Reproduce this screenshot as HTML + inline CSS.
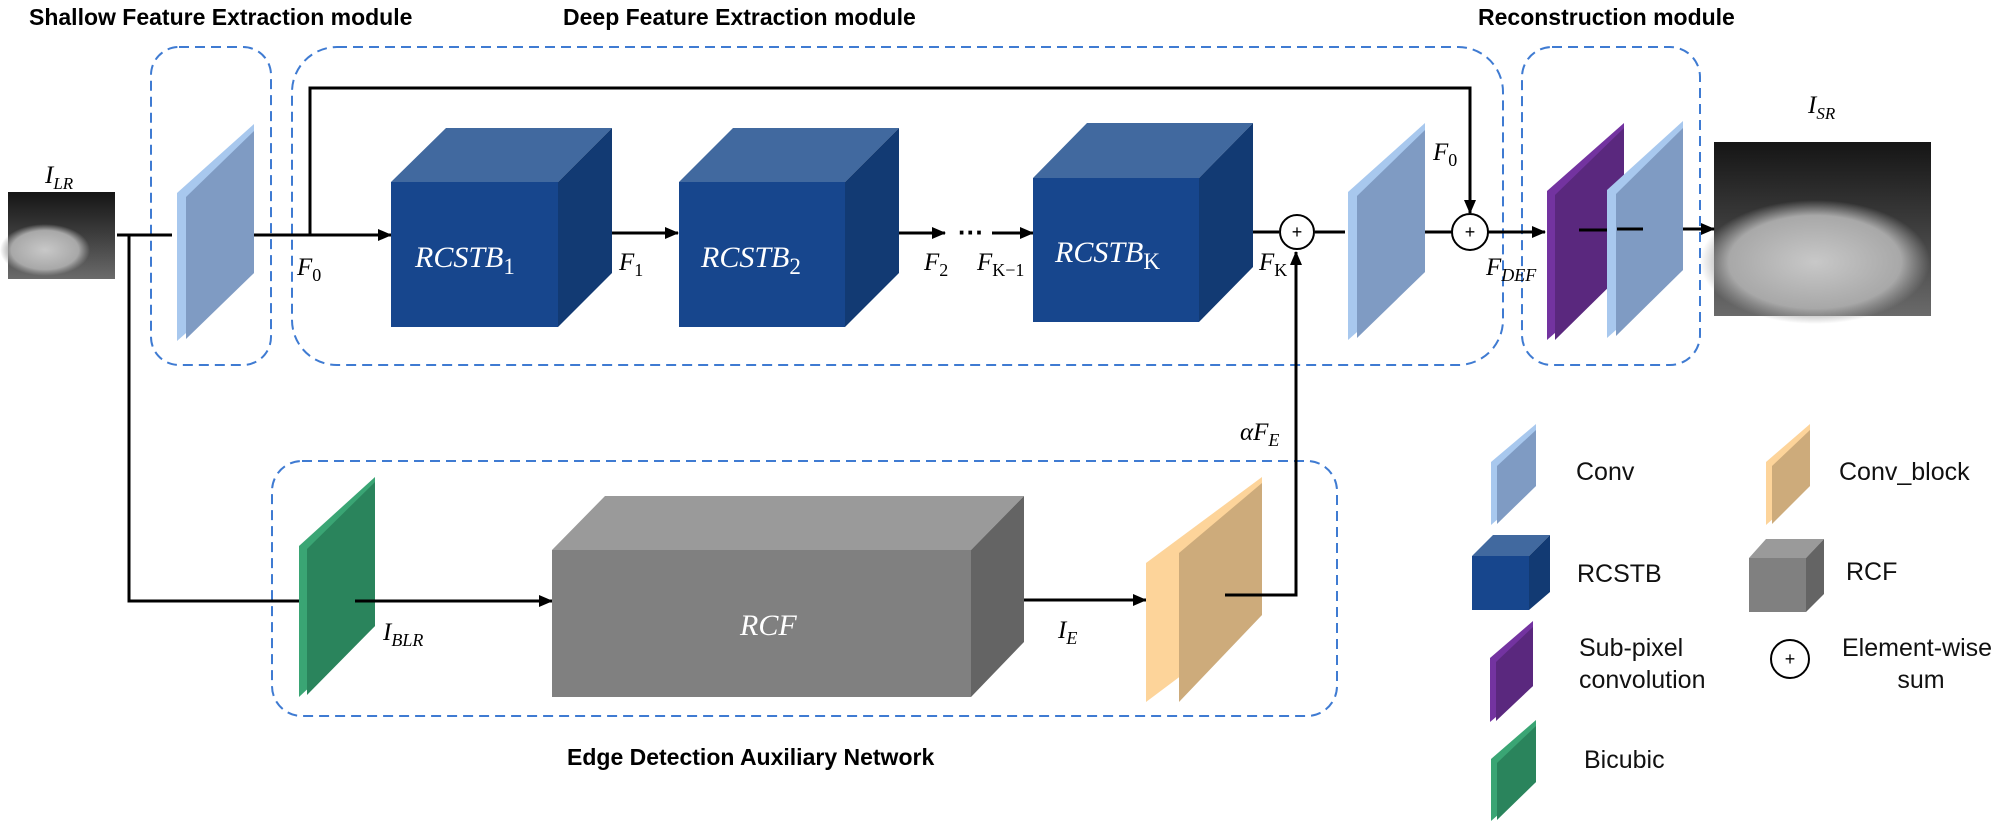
<!DOCTYPE html>
<html><head><meta charset="utf-8"><style>
html,body{margin:0;padding:0;background:#fff;}
svg{display:block;}
.t{font-family:"Liberation Sans",Arial,sans-serif;font-weight:bold;font-size:23px;fill:#000;}
.m{font-family:"Liberation Serif",serif;font-style:italic;font-size:25px;fill:#000;}
.w{font-family:"Liberation Serif",serif;font-style:italic;font-size:30px;fill:#fff;}
.l{font-family:"Liberation Sans",Arial,sans-serif;font-size:25px;fill:#111;}
</style></head><body>
<svg width="2007" height="824" viewBox="0 0 2007 824" xmlns="http://www.w3.org/2000/svg">
<defs>
<marker id="b" markerWidth="14" markerHeight="14" refX="13" refY="7" orient="auto" markerUnits="userSpaceOnUse"><path d="M0,1 L14,7 L0,13 z" fill="#000"/></marker>
<linearGradient id="gi" x1="0" y1="0" x2="0" y2="1"><stop offset="0" stop-color="#151515"/><stop offset="0.45" stop-color="#3a3a3a"/><stop offset="1" stop-color="#6a6a6a"/></linearGradient>
<radialGradient id="car" cx="0.5" cy="0.5" r="0.5"><stop offset="0" stop-color="#c8c8c8"/><stop offset="0.75" stop-color="#a8a8a8"/><stop offset="1" stop-color="#a0a0a0" stop-opacity="0"/></radialGradient>
</defs>

<text class="t" x="29" y="25">Shallow Feature Extraction module</text>
<text class="t" x="563" y="25">Deep Feature Extraction module</text>
<text class="t" x="1478" y="25">Reconstruction module</text>
<text class="t" x="567" y="765">Edge Detection Auxiliary Network</text>

<g fill="none" stroke="#3f7bd2" stroke-width="2" stroke-dasharray="10 6">
<rect x="151" y="47" width="120" height="318" rx="28"/>
<rect x="292" y="47" width="1211" height="318" rx="45"/>
<rect x="1522" y="47" width="178" height="318" rx="30"/>
<rect x="272" y="461" width="1065" height="255" rx="30"/>
</g>

<rect x="8" y="192" width="107" height="87" fill="url(#gi)"/>
<ellipse cx="45" cy="250" rx="45" ry="26" fill="url(#car)"/>
<text class="m" x="45" y="183">I<tspan font-size="17" dy="6">LR</tspan></text>

<rect x="1714" y="142" width="217" height="174" fill="url(#gi)"/>
<ellipse cx="1815" cy="262" rx="115" ry="62" fill="url(#car)"/>
<text class="m" x="1808" y="113">I<tspan font-size="17" dy="6">SR</tspan></text>

<g stroke="#000" stroke-width="3" fill="none">
<line x1="117" y1="235" x2="172" y2="235"/>
<line x1="237" y1="235" x2="391" y2="235" marker-end="url(#b)"/>
<polyline points="310,235 310,88 1470,88 1470,213" marker-end="url(#b)"/>
<line x1="578" y1="233" x2="678" y2="233" marker-end="url(#b)"/>
<line x1="899" y1="233" x2="945" y2="233" marker-end="url(#b)"/>
<line x1="992" y1="233" x2="1033" y2="233" marker-end="url(#b)"/>
<line x1="1253" y1="232" x2="1279" y2="232"/>
<line x1="1315" y1="232" x2="1345" y2="232"/>
<line x1="1414" y1="232" x2="1452" y2="232"/>
<line x1="1488" y1="232" x2="1545" y2="232" marker-end="url(#b)"/>
<line x1="1643" y1="229" x2="1714" y2="229" marker-end="url(#b)"/>
<polyline points="129,235 129,601 299,601"/>
<line x1="355" y1="601" x2="552" y2="601" marker-end="url(#b)"/>
<line x1="993" y1="600" x2="1146" y2="600" marker-end="url(#b)"/>
<polyline points="1225,595 1296,595 1296,252" marker-end="url(#b)"/>
</g>
<text x="958" y="241" font-family="Liberation Sans" font-size="26" font-weight="bold">···</text>

<g stroke="#000" stroke-width="2" fill="#fff">
<circle cx="1297" cy="232" r="17"/>
<circle cx="1470" cy="232" r="18"/>
<circle cx="1790" cy="659" r="19"/>
</g>
<g font-family="Liberation Sans" font-size="18" text-anchor="middle">
<text x="1297" y="238">+</text><text x="1470" y="238">+</text><text x="1790" y="665">+</text>
</g>

<g>
<polygon points="177,193 254,124 254,273 177,341" fill="#a8c8ee"/>
<polygon points="186,197 254,131 254,273 186,339" fill="#7f9bc3"/>
<polygon points="1348,192 1425,123 1425,272 1348,340" fill="#a8c8ee"/>
<polygon points="1357,196 1425,130 1425,272 1357,338" fill="#7f9bc3"/>
<polygon points="1547,191 1624,123 1624,272 1547,340" fill="#7333a0"/>
<polygon points="1555,195 1624,128 1624,272 1555,340" fill="#5a287e"/>
<line x1="1579" y1="230" x2="1607" y2="230" stroke="#000" stroke-width="3"/>
<polygon points="1607,190 1683,121 1683,270 1607,338" fill="#a8c8ee"/>
<polygon points="1616,194 1683,128 1683,270 1616,336" fill="#7f9bc3"/>
<line x1="1617" y1="229" x2="1643" y2="229" stroke="#000" stroke-width="3"/>
<polygon points="299,546 375,477 375,626 299,697" fill="#3aa574"/>
<polygon points="307,549 375,482 375,626 307,695" fill="#2a845c"/>
<polygon points="1146,563 1262,477 1262,615 1146,702" fill="#fdd49a"/>
<polygon points="1179,553 1262,483 1262,615 1179,702" fill="#cdab7b"/>
</g>
<line x1="355" y1="601" x2="375" y2="601" stroke="#000" stroke-width="3"/>
<line x1="1225" y1="595" x2="1262" y2="595" stroke="#000" stroke-width="3"/>

<g>
<polygon points="391,182 446,128 612,128 558,182" fill="#41699f"/>
<polygon points="558,182 612,128 612,273 558,327" fill="#123a73"/>
<rect x="391" y="182" width="167" height="145" fill="#17468d"/>
<polygon points="679,182 733,128 899,128 845,182" fill="#41699f"/>
<polygon points="845,182 899,128 899,273 845,327" fill="#123a73"/>
<rect x="679" y="182" width="166" height="145" fill="#17468d"/>
<polygon points="1033,178 1087,123 1253,123 1199,178" fill="#41699f"/>
<polygon points="1199,178 1253,123 1253,267 1199,322" fill="#123a73"/>
<rect x="1033" y="178" width="166" height="144" fill="#17468d"/>
<polygon points="552,550 605,496 1024,496 971,550" fill="#9a9a9a"/>
<polygon points="971,550 1024,496 1024,642 971,697" fill="#646464"/>
<rect x="552" y="550" width="419" height="147" fill="#808080"/>
</g>
<text class="w" x="415" y="267">RCSTB<tspan font-style="normal" font-size="23" dy="7">1</tspan></text>
<text class="w" x="701" y="267">RCSTB<tspan font-style="normal" font-size="23" dy="7">2</tspan></text>
<text class="w" x="1055" y="262">RCSTB<tspan font-style="normal" font-size="23" dy="7">K</tspan></text>
<text class="w" x="740" y="635">RCF</text>

<text class="m" x="297" y="275">F<tspan font-style="normal" font-size="18" dy="6">0</tspan></text>
<text class="m" x="619" y="270">F<tspan font-style="normal" font-size="18" dy="6">1</tspan></text>
<text class="m" x="924" y="270">F<tspan font-style="normal" font-size="18" dy="6">2</tspan></text>
<text class="m" x="977" y="270">F<tspan font-style="normal" font-size="18" dy="6">K−1</tspan></text>
<text class="m" x="1259" y="270">F<tspan font-style="normal" font-size="18" dy="6">K</tspan></text>
<text class="m" x="1433" y="160">F<tspan font-style="normal" font-size="18" dy="6">0</tspan></text>
<text class="m" x="1486" y="275">F<tspan font-size="18" dy="6">DEF</tspan></text>
<text class="m" x="1240" y="440">αF<tspan font-size="18" dy="6">E</tspan></text>
<text class="m" x="383" y="640">I<tspan font-size="18" dy="6">BLR</tspan></text>
<text class="m" x="1058" y="638">I<tspan font-size="18" dy="6">E</tspan></text>

<polygon points="1491,462 1536,424 1536,486 1491,525" fill="#a8c8ee"/>
<polygon points="1497,466 1536,430 1536,486 1497,524" fill="#7f9bc3"/>
<text class="l" x="1576" y="480">Conv</text>
<polygon points="1766,462 1810,424 1810,486 1766,525" fill="#fdd49a"/>
<polygon points="1772,466 1810,430 1810,486 1772,524" fill="#cdab7b"/>
<text class="l" x="1839" y="480">Conv_block</text>
<polygon points="1472,556 1493,535 1550,535 1529,556" fill="#41699f"/>
<polygon points="1529,556 1550,535 1550,592 1529,610" fill="#123a73"/>
<rect x="1472" y="556" width="57" height="54" fill="#17468d"/>
<text class="l" x="1577" y="582">RCSTB</text>
<polygon points="1749,558 1766,539 1824,539 1806,558" fill="#9a9a9a"/>
<polygon points="1806,558 1824,539 1824,594 1806,612" fill="#646464"/>
<rect x="1749" y="558" width="57" height="54" fill="#808080"/>
<text class="l" x="1846" y="580">RCF</text>
<polygon points="1490,658 1533,621 1533,686 1490,722" fill="#7333a0"/>
<polygon points="1496,662 1533,627 1533,686 1496,721" fill="#5a287e"/>
<text class="l" x="1579" y="656">Sub-pixel</text>
<text class="l" x="1579" y="688">convolution</text>
<text class="l" x="1842" y="656">Element-wise</text>
<text class="l" x="1921" y="688" text-anchor="middle">sum</text>
<polygon points="1491,759 1536,720 1536,782 1491,821" fill="#3aa574"/>
<polygon points="1497,763 1536,726 1536,782 1497,820" fill="#2a845c"/>
<text class="l" x="1584" y="768">Bicubic</text>
</svg>
</body></html>
